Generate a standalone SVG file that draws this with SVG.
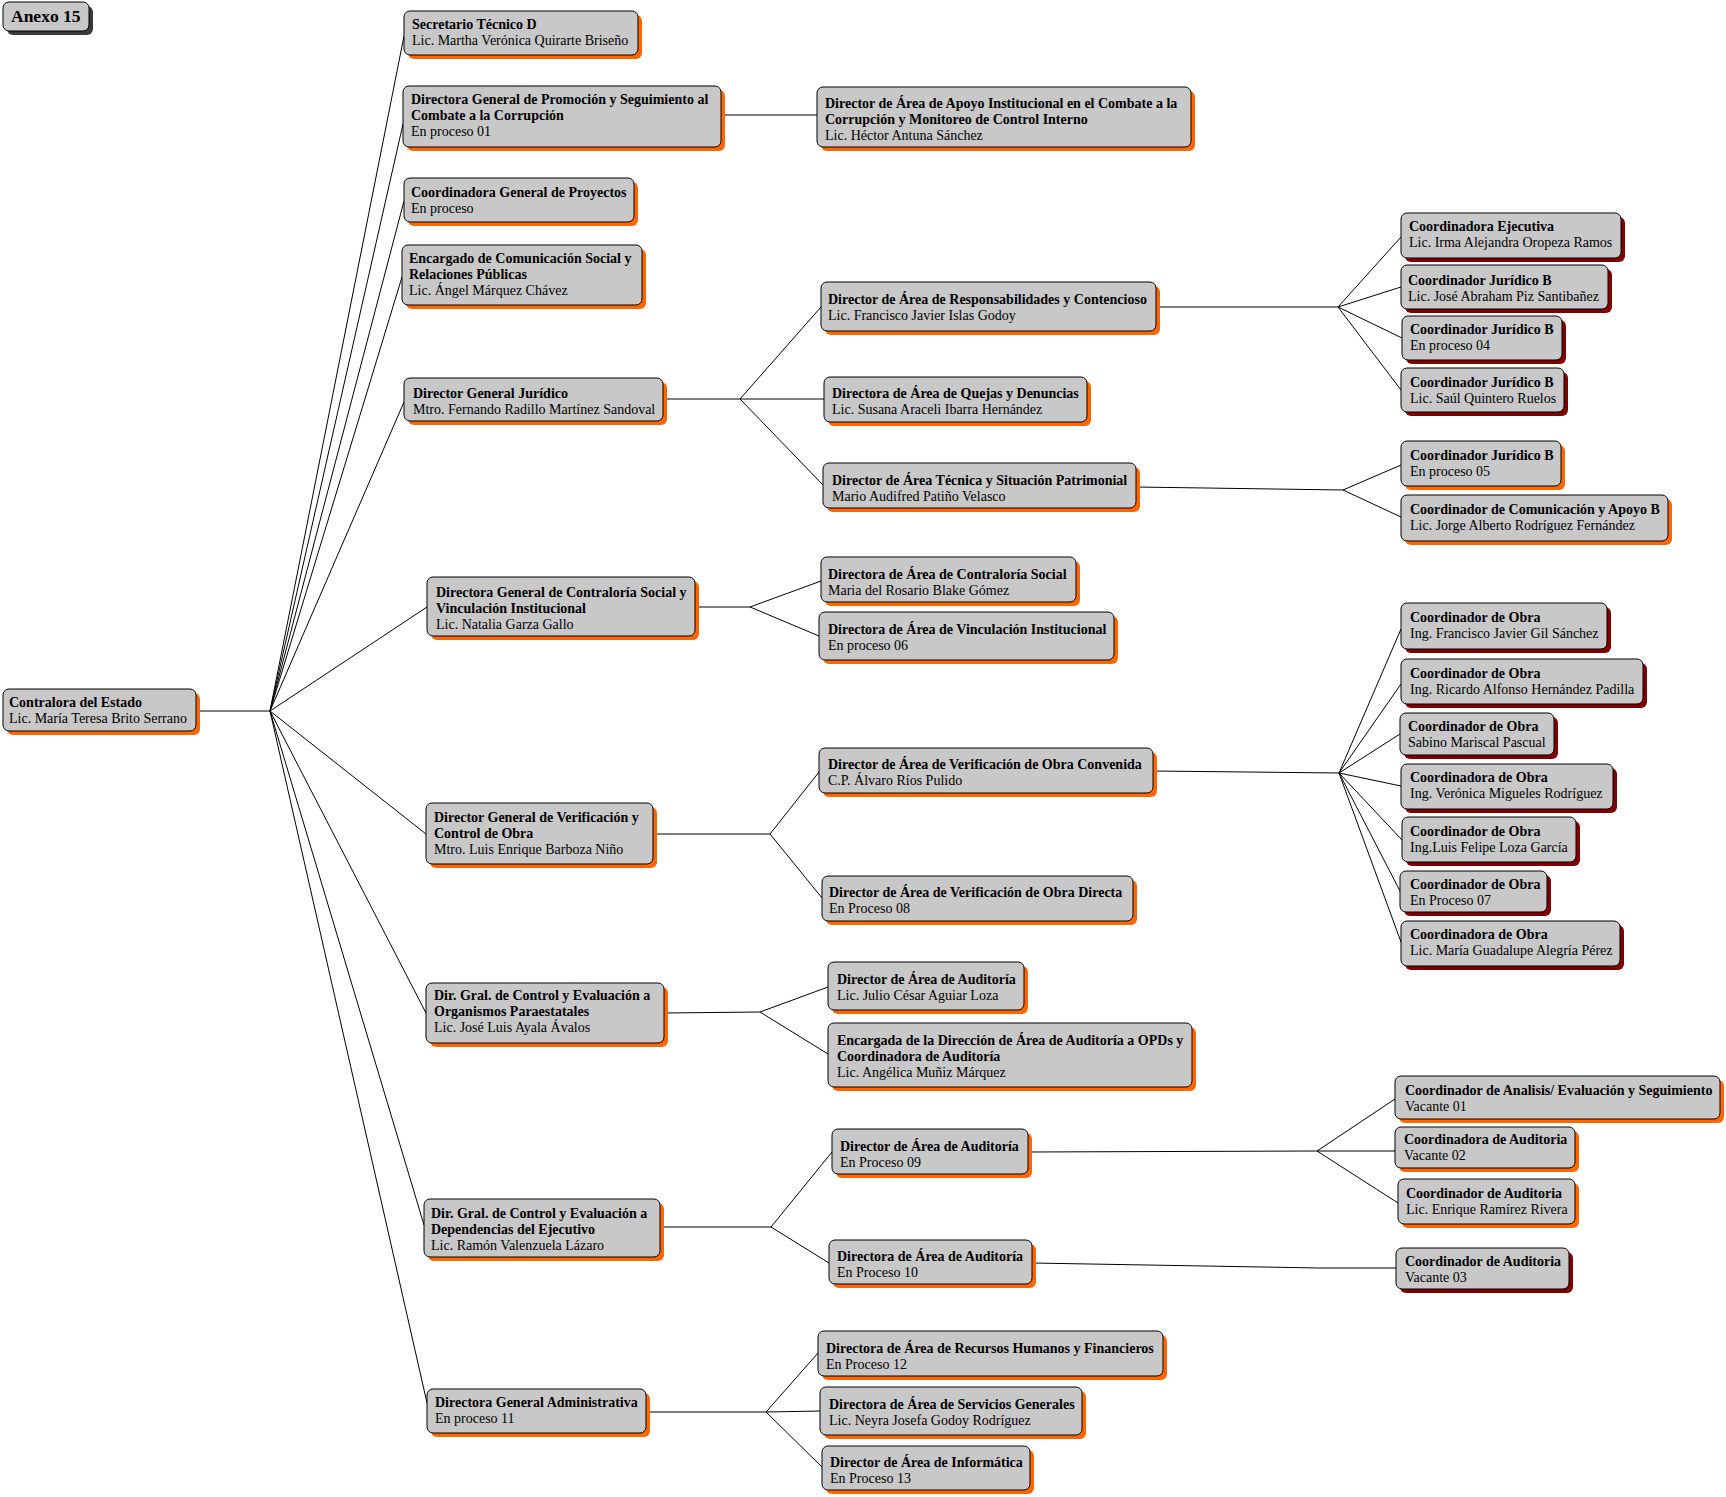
<svg xmlns="http://www.w3.org/2000/svg" width="1726" height="1497" viewBox="0 0 1726 1497">
<style>
.bx{fill:#C8C8C8;stroke:#000;stroke-width:1}
.so{fill:#FF6600}
.sm{fill:#800000}
.sg{fill:#3a3a3a}
text{font-family:"Liberation Serif","Times New Roman",serif;font-size:14px;fill:#000;transform:translate(0px,1px)}
.b{font-weight:bold}
#connectors path{fill:none;stroke:#000;stroke-width:1}
</style>
<rect width="1726" height="1497" fill="#fff"/>
<g id="connectors">
<path d="M196 711H270"/>
<path d="M270 711L404 36M270 711L403 124M270 711L404 201M270 711L402 277M270 711L404 402M270 711L427 607M270 711L426 834M270 711L426 1013M270 711L424 1225M270 711L427 1403"/>
<path d="M721 115H817"/>
<path d="M663 399H740M740 399L821 307M740 399L824 399M740 399L823 485"/>
<path d="M1156 307H1338M1338 307L1401 237M1338 307L1401 287M1338 307L1402 338M1338 307L1401 390"/>
<path d="M1136 487L1343 490M1343 490L1401 465M1343 490L1401 517"/>
<path d="M695 607H750M750 607L821 581M750 607L819 636"/>
<path d="M653 834H770M770 834L819 772M770 834L822 898"/>
<path d="M1153 771L1339 773M1339 773L1401 629M1339 773L1401 684M1339 773L1400 734M1339 773L1401 786M1339 773L1402 840M1339 773L1400 891M1339 773L1401 942"/>
<path d="M664 1013L760 1012M760 1012L828 987M760 1012L828 1054"/>
<path d="M660 1227H771M771 1227L832 1152M771 1227L829 1263"/>
<path d="M1028 1152L1317 1151M1317 1151L1395 1099M1317 1151L1395 1151M1317 1151L1398 1203"/>
<path d="M1032 1263L1319 1268H1396"/>
<path d="M646 1412H766M766 1412L818 1353M766 1412L820 1411M766 1412L822 1467"/>
</g>
<g id="n-anexo"><rect class="sg" x="7" y="6" width="86" height="29" rx="6"/><rect class="bx" x="3" y="2" width="86" height="29" rx="6"/><text class="b" x="11" y="21" style="font-size:17.5px">Anexo 15</text></g>
<g id="n-contralora"><rect class="so" x="7" y="693" width="193" height="42" rx="6"/><rect class="bx" x="3" y="689" width="193" height="42" rx="6"/><text x="9" y="706" class="b">Contralora del Estado</text><text x="9" y="722">Lic. María Teresa Brito Serrano</text></g>
<g id="n-secretario"><rect class="so" x="408" y="15" width="234" height="44" rx="6"/><rect class="bx" x="404" y="11" width="234" height="44" rx="6"/><text x="412" y="28" class="b">Secretario Técnico D</text><text x="412" y="44">Lic. Martha Verónica Quirarte Briseño</text></g>
<g id="n-promocion"><rect class="so" x="407" y="90" width="318" height="61" rx="6"/><rect class="bx" x="403" y="86" width="318" height="61" rx="6"/><text x="411" y="103" class="b">Directora General de Promoción y Seguimiento al</text><text x="411" y="119" class="b">Combate a la Corrupción</text><text x="411" y="135">En proceso 01</text></g>
<g id="n-proyectos"><rect class="so" x="408" y="182" width="230" height="44" rx="6"/><rect class="bx" x="404" y="178" width="230" height="44" rx="6"/><text x="411" y="196" class="b">Coordinadora General de Proyectos</text><text x="411" y="212">En proceso</text></g>
<g id="n-encargado"><rect class="so" x="406" y="249" width="240" height="60" rx="6"/><rect class="bx" x="402" y="245" width="240" height="60" rx="6"/><text x="409" y="262" class="b">Encargado de Comunicación Social y</text><text x="409" y="278" class="b">Relaciones Públicas</text><text x="409" y="294">Lic. Ángel Márquez Chávez</text></g>
<g id="n-juridico"><rect class="so" x="408" y="382" width="259" height="43" rx="6"/><rect class="bx" x="404" y="378" width="259" height="43" rx="6"/><text x="413" y="397" class="b">Director General Jurídico</text><text x="413" y="413">Mtro. Fernando Radillo Martínez Sandoval</text></g>
<g id="n-contraloria-gen"><rect class="so" x="431" y="581" width="268" height="59" rx="6"/><rect class="bx" x="427" y="577" width="268" height="59" rx="6"/><text x="436" y="596" class="b">Directora General de Contraloría Social y</text><text x="436" y="612" class="b">Vinculación Institucional</text><text x="436" y="628">Lic. Natalia Garza Gallo</text></g>
<g id="n-verificacion-gen"><rect class="so" x="430" y="807" width="227" height="61" rx="6"/><rect class="bx" x="426" y="803" width="227" height="61" rx="6"/><text x="434" y="821" class="b">Director General de Verificación y</text><text x="434" y="837" class="b">Control de Obra</text><text x="434" y="853">Mtro. Luis Enrique Barboza Niño</text></g>
<g id="n-paraestatales"><rect class="so" x="430" y="987" width="238" height="60" rx="6"/><rect class="bx" x="426" y="983" width="238" height="60" rx="6"/><text x="434" y="999" class="b">Dir. Gral. de Control y Evaluación a</text><text x="434" y="1015" class="b">Organismos Paraestatales</text><text x="434" y="1031">Lic. José Luis Ayala Ávalos</text></g>
<g id="n-dependencias"><rect class="so" x="428" y="1203" width="236" height="58" rx="6"/><rect class="bx" x="424" y="1199" width="236" height="58" rx="6"/><text x="431" y="1217" class="b">Dir. Gral. de Control y Evaluación a</text><text x="431" y="1233" class="b">Dependencias del Ejecutivo</text><text x="431" y="1249">Lic. Ramón Valenzuela Lázaro</text></g>
<g id="n-administrativa"><rect class="so" x="431" y="1393" width="219" height="44" rx="6"/><rect class="bx" x="427" y="1389" width="219" height="44" rx="6"/><text x="435" y="1406" class="b">Directora General Administrativa</text><text x="435" y="1422">En proceso 11</text></g>
<g id="n-apoyo"><rect class="so" x="821" y="91" width="374" height="60" rx="6"/><rect class="bx" x="817" y="87" width="374" height="60" rx="6"/><text x="825" y="107" class="b">Director de Área de Apoyo Institucional en el Combate a la</text><text x="825" y="123" class="b">Corrupción y Monitoreo de Control Interno</text><text x="825" y="139">Lic. Héctor Antuna Sánchez</text></g>
<g id="n-responsabilidades"><rect class="so" x="825" y="286" width="335" height="49" rx="6"/><rect class="bx" x="821" y="282" width="335" height="49" rx="6"/><text x="828" y="303" class="b">Director de Área de Responsabilidades y Contencioso</text><text x="828" y="319">Lic. Francisco Javier Islas Godoy</text></g>
<g id="n-quejas"><rect class="so" x="828" y="381" width="263" height="45" rx="6"/><rect class="bx" x="824" y="377" width="263" height="45" rx="6"/><text x="832" y="397" class="b">Directora de Área de Quejas y Denuncias</text><text x="832" y="413">Lic. Susana Araceli Ibarra Hernández</text></g>
<g id="n-tecnica"><rect class="so" x="827" y="467" width="313" height="45" rx="6"/><rect class="bx" x="823" y="463" width="313" height="45" rx="6"/><text x="832" y="484" class="b">Director de Área Técnica y Situación Patrimonial</text><text x="832" y="500">Mario Audifred Patiño Velasco</text></g>
<g id="n-contraloria-social"><rect class="so" x="825" y="561" width="255" height="45" rx="6"/><rect class="bx" x="821" y="557" width="255" height="45" rx="6"/><text x="828" y="578" class="b">Directora de Área de Contraloría Social</text><text x="828" y="594">Maria del Rosario Blake Gómez</text></g>
<g id="n-vinculacion"><rect class="so" x="823" y="616" width="295" height="48" rx="6"/><rect class="bx" x="819" y="612" width="295" height="48" rx="6"/><text x="828" y="633" class="b">Directora de Área de Vinculación Institucional</text><text x="828" y="649">En proceso 06</text></g>
<g id="n-convenida"><rect class="so" x="823" y="752" width="334" height="45" rx="6"/><rect class="bx" x="819" y="748" width="334" height="45" rx="6"/><text x="828" y="768" class="b">Director de Área de Verificación de Obra Convenida</text><text x="828" y="784">C.P. Álvaro Ríos Pulido</text></g>
<g id="n-directa"><rect class="so" x="826" y="880" width="311" height="45" rx="6"/><rect class="bx" x="822" y="876" width="311" height="45" rx="6"/><text x="829" y="896" class="b">Director de Área de Verificación de Obra Directa</text><text x="829" y="912">En Proceso 08</text></g>
<g id="n-auditoria-julio"><rect class="so" x="832" y="966" width="196" height="48" rx="6"/><rect class="bx" x="828" y="962" width="196" height="48" rx="6"/><text x="837" y="983" class="b">Director de Área de Auditoría</text><text x="837" y="999">Lic. Julio César Aguiar Loza</text></g>
<g id="n-opds"><rect class="so" x="832" y="1027" width="364" height="64" rx="6"/><rect class="bx" x="828" y="1023" width="364" height="64" rx="6"/><text x="837" y="1044" class="b">Encargada de la Dirección de Área de Auditoría a OPDs y</text><text x="837" y="1060" class="b">Coordinadora de Auditoría</text><text x="837" y="1076">Lic. Angélica Muñiz Márquez</text></g>
<g id="n-auditoria-09"><rect class="so" x="836" y="1133" width="196" height="45" rx="6"/><rect class="bx" x="832" y="1129" width="196" height="45" rx="6"/><text x="840" y="1150" class="b">Director de Área de Auditoría</text><text x="840" y="1166">En Proceso 09</text></g>
<g id="n-auditoria-10"><rect class="so" x="833" y="1244" width="203" height="44" rx="6"/><rect class="bx" x="829" y="1240" width="203" height="44" rx="6"/><text x="837" y="1260" class="b">Directora de Área de Auditoría</text><text x="837" y="1276">En Proceso 10</text></g>
<g id="n-rh"><rect class="so" x="822" y="1335" width="345" height="45" rx="6"/><rect class="bx" x="818" y="1331" width="345" height="45" rx="6"/><text x="826" y="1352" class="b">Directora de Área de Recursos Humanos y Financieros</text><text x="826" y="1368">En Proceso 12</text></g>
<g id="n-sg"><rect class="so" x="824" y="1391" width="262" height="48" rx="6"/><rect class="bx" x="820" y="1387" width="262" height="48" rx="6"/><text x="829" y="1408" class="b">Directora de Área de Servicios Generales</text><text x="829" y="1424">Lic. Neyra Josefa Godoy Rodríguez</text></g>
<g id="n-informatica"><rect class="so" x="826" y="1450" width="208" height="44" rx="6"/><rect class="bx" x="822" y="1446" width="208" height="44" rx="6"/><text x="830" y="1466" class="b">Director de Área de Informática</text><text x="830" y="1482">En Proceso 13</text></g>
<g id="n-ejecutiva"><rect class="sm" x="1405" y="217" width="220" height="45" rx="6"/><rect class="bx" x="1401" y="213" width="220" height="45" rx="6"/><text x="1409" y="230" class="b">Coordinadora Ejecutiva</text><text x="1409" y="246">Lic. Irma Alejandra Oropeza Ramos</text></g>
<g id="n-juridico-b1"><rect class="sm" x="1405" y="269" width="207" height="44" rx="6"/><rect class="bx" x="1401" y="265" width="207" height="44" rx="6"/><text x="1408" y="284" class="b">Coordinador Jurídico B</text><text x="1408" y="300">Lic. José Abraham Piz Santibañez</text></g>
<g id="n-juridico-b2"><rect class="sm" x="1406" y="320" width="160" height="44" rx="6"/><rect class="bx" x="1402" y="316" width="160" height="44" rx="6"/><text x="1410" y="333" class="b">Coordinador Jurídico B</text><text x="1410" y="349">En proceso 04</text></g>
<g id="n-juridico-b3"><rect class="sm" x="1405" y="372" width="163" height="44" rx="6"/><rect class="bx" x="1401" y="368" width="163" height="44" rx="6"/><text x="1410" y="386" class="b">Coordinador Jurídico B</text><text x="1410" y="402">Lic. Saúl Quintero Ruelos</text></g>
<g id="n-juridico-b4"><rect class="so" x="1405" y="445" width="160" height="45" rx="6"/><rect class="bx" x="1401" y="441" width="160" height="45" rx="6"/><text x="1410" y="459" class="b">Coordinador Jurídico B</text><text x="1410" y="475">En proceso 05</text></g>
<g id="n-comunicacion-apoyo"><rect class="so" x="1405" y="499" width="267" height="46" rx="6"/><rect class="bx" x="1401" y="495" width="267" height="46" rx="6"/><text x="1410" y="513" class="b">Coordinador de Comunicación y Apoyo B</text><text x="1410" y="529">Lic. Jorge Alberto Rodríguez Fernández</text></g>
<g id="n-obra1"><rect class="sm" x="1405" y="607" width="206" height="46" rx="6"/><rect class="bx" x="1401" y="603" width="206" height="46" rx="6"/><text x="1410" y="621" class="b">Coordinador de Obra</text><text x="1410" y="637">Ing. Francisco Javier Gil Sánchez</text></g>
<g id="n-obra2"><rect class="sm" x="1405" y="663" width="242" height="45" rx="6"/><rect class="bx" x="1401" y="659" width="242" height="45" rx="6"/><text x="1410" y="677" class="b">Coordinador de Obra</text><text x="1410" y="693">Ing. Ricardo Alfonso Hernández Padilla</text></g>
<g id="n-obra3"><rect class="sm" x="1404" y="717" width="154" height="42" rx="6"/><rect class="bx" x="1400" y="713" width="154" height="42" rx="6"/><text x="1408" y="730" class="b">Coordinador de Obra</text><text x="1408" y="746">Sabino Mariscal Pascual</text></g>
<g id="n-obra4"><rect class="sm" x="1405" y="768" width="212" height="45" rx="6"/><rect class="bx" x="1401" y="764" width="212" height="45" rx="6"/><text x="1410" y="781" class="b">Coordinadora de Obra</text><text x="1410" y="797">Ing. Verónica Migueles Rodríguez</text></g>
<g id="n-obra5"><rect class="sm" x="1406" y="821" width="174" height="45" rx="6"/><rect class="bx" x="1402" y="817" width="174" height="45" rx="6"/><text x="1410" y="835" class="b">Coordinador de Obra</text><text x="1410" y="851">Ing.Luis Felipe Loza García</text></g>
<g id="n-obra6"><rect class="sm" x="1404" y="875" width="147" height="41" rx="6"/><rect class="bx" x="1400" y="871" width="147" height="41" rx="6"/><text x="1410" y="888" class="b">Coordinador de Obra</text><text x="1410" y="904">En Proceso 07</text></g>
<g id="n-obra7"><rect class="sm" x="1405" y="925" width="219" height="45" rx="6"/><rect class="bx" x="1401" y="921" width="219" height="45" rx="6"/><text x="1410" y="938" class="b">Coordinadora de Obra</text><text x="1410" y="954">Lic. María Guadalupe Alegría Pérez</text></g>
<g id="n-analisis"><rect class="so" x="1399" y="1080" width="325" height="43" rx="6"/><rect class="bx" x="1395" y="1076" width="325" height="43" rx="6"/><text x="1405" y="1094" class="b">Coordinador de Analisis/ Evaluación y Seguimiento</text><text x="1405" y="1110">Vacante 01</text></g>
<g id="n-vacante02"><rect class="so" x="1399" y="1131" width="180" height="41" rx="6"/><rect class="bx" x="1395" y="1127" width="180" height="41" rx="6"/><text x="1404" y="1143" class="b">Coordinadora de Auditoria</text><text x="1404" y="1159">Vacante 02</text></g>
<g id="n-enrique"><rect class="so" x="1402" y="1183" width="177" height="45" rx="6"/><rect class="bx" x="1398" y="1179" width="177" height="45" rx="6"/><text x="1406" y="1197" class="b">Coordinador de Auditoria</text><text x="1406" y="1213">Lic. Enrique Ramírez Rivera</text></g>
<g id="n-vacante03"><rect class="sm" x="1400" y="1252" width="173" height="41" rx="6"/><rect class="bx" x="1396" y="1248" width="173" height="41" rx="6"/><text x="1405" y="1265" class="b">Coordinador de Auditoria</text><text x="1405" y="1281">Vacante 03</text></g>
</svg>
